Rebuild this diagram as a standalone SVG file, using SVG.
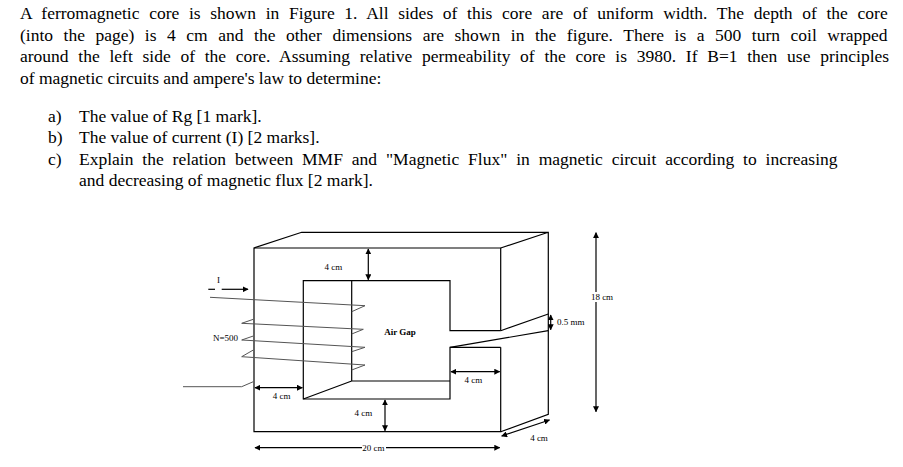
<svg xmlns="http://www.w3.org/2000/svg" width="903" height="467" viewBox="0 0 903 467">
<defs>
<marker id="ah" viewBox="0 0 10 10" refX="9" refY="5" markerWidth="5" markerHeight="5" orient="auto-start-reverse"><path d="M0,0 L10,5 L0,10 z" fill="#000"/></marker>
<style>
text{font-family:'Liberation Serif','Times New Roman',serif;fill:#000}
.t{font-size:17.5px}
.s{font-size:9px}
.l{stroke:#000;stroke-width:1.2;fill:none}
.c{stroke:#555;stroke-width:1;fill:none}
.d{stroke:#000;stroke-width:1.2;fill:none;marker-start:url(#ah);marker-end:url(#ah)}
</style>
</defs>
<rect width="903" height="467" fill="#fff"/>
<g id="question">
<text class="t" x="20" y="19" word-spacing="5.3">A ferromagnetic core is shown in Figure 1. All sides of this core are of uniform width. The depth of the core</text>
<text class="t" x="20" y="40.5" word-spacing="6.15">(into the page) is 4 cm and the other dimensions are shown in the figure. There is a 500 turn coil wrapped</text>
<text class="t" x="20" y="62" word-spacing="5.35">around the left side of the core. Assuming relative permeability of the core is 3980. If B=1 then use principles</text>
<text class="t" x="20" y="83.5">of magnetic circuits and ampere's law to determine:</text>
<text class="t" x="48" y="122">a)</text><text class="t" x="79" y="122">The value of Rg [1 mark].</text>
<text class="t" x="48" y="143">b)</text><text class="t" x="79" y="143">The value of current (I) [2 marks].</text>
<text class="t" x="48" y="164.5">c)</text><text class="t" x="79" y="164.5" word-spacing="4.5">Explain the relation between MMF and "Magnetic Flux" in magnetic circuit according to increasing</text>
<text class="t" x="79" y="186">and decreasing of magnetic flux [2 mark].</text>
</g>
<g id="core">
<path class="l" d="M500.7,330.7 V248 H254 V431.7 H500.7 V347.3"/>
<path class="l" d="M254,248 L301.7,232.3 H548.3 V414.3 L500.7,431.7 M500.7,248 L548.3,232.3"/>
<path class="l" d="M500.7,330.7 H450 V280.7 H303.3 V399 H450 V347.3 H500.7"/>
<path class="l" d="M351.7,280.7 V381 H450 M303.3,399 L351.7,381 M500.7,330.7 L548.3,314 M450,347.3 L548.3,330.7"/>
</g>
<g id="coil">
<path class="c" d="M210,297.3 L365,305.7 L351.7,311.7 M241.7,323.3 L253.3,319.3 M241.7,323.3 L363.3,329.3 L351.7,334 M241.7,340 L253.3,336 M241.7,340 L365,347.3 L351.7,351.7 M241.7,356.7 L253.3,350 M241.7,356.7 L365,365 L351.7,370 M183,386.7 L241.7,386.7 L253.3,381.7"/>
<text class="s" x="238" y="341.3" text-anchor="end">N=500</text>
<text class="s" x="217" y="283">I</text>
<path class="l" d="M208.3,289.3 H215"/>
<path class="l" d="M221.7,289.3 H248" marker-end="url(#ah)"/>
</g>
<g id="dimensions">
<path class="d" d="M368.3,249 V279.7"/>
<text class="s" x="333.3" y="269.7" text-anchor="middle">4 cm</text>
<path class="d" d="M596,232.7 V411.7"/>
<rect x="588" y="292" width="28" height="10" fill="#fff"/>
<text class="s" x="602" y="300" text-anchor="middle">18 cm</text>
<path class="d" d="M550.7,315 V329.7"/>
<text class="s" x="557" y="324.5">0.5 mm</text>
<text class="s" x="400" y="334.7" text-anchor="middle" font-weight="bold">Air Gap</text>
<path class="d" d="M451,371.7 H499.7"/>
<text class="s" x="473.3" y="383" text-anchor="middle">4 cm</text>
<path class="d" d="M255,387.7 H302.3"/>
<text class="s" x="281.7" y="399" text-anchor="middle">4 cm</text>
<path class="d" d="M385,400 V430.7"/>
<text class="s" x="363.3" y="415.7" text-anchor="middle">4 cm</text>
<path class="d" d="M255,447.7 H499.7"/>
<rect x="362" y="443" width="24" height="9" fill="#fff"/>
<text class="s" x="373.3" y="451" text-anchor="middle">20 cm</text>
<path class="d" d="M501.7,436 L549.5,420"/>
<text class="s" x="539" y="441" text-anchor="middle">4 cm</text>
</g>
</svg>
